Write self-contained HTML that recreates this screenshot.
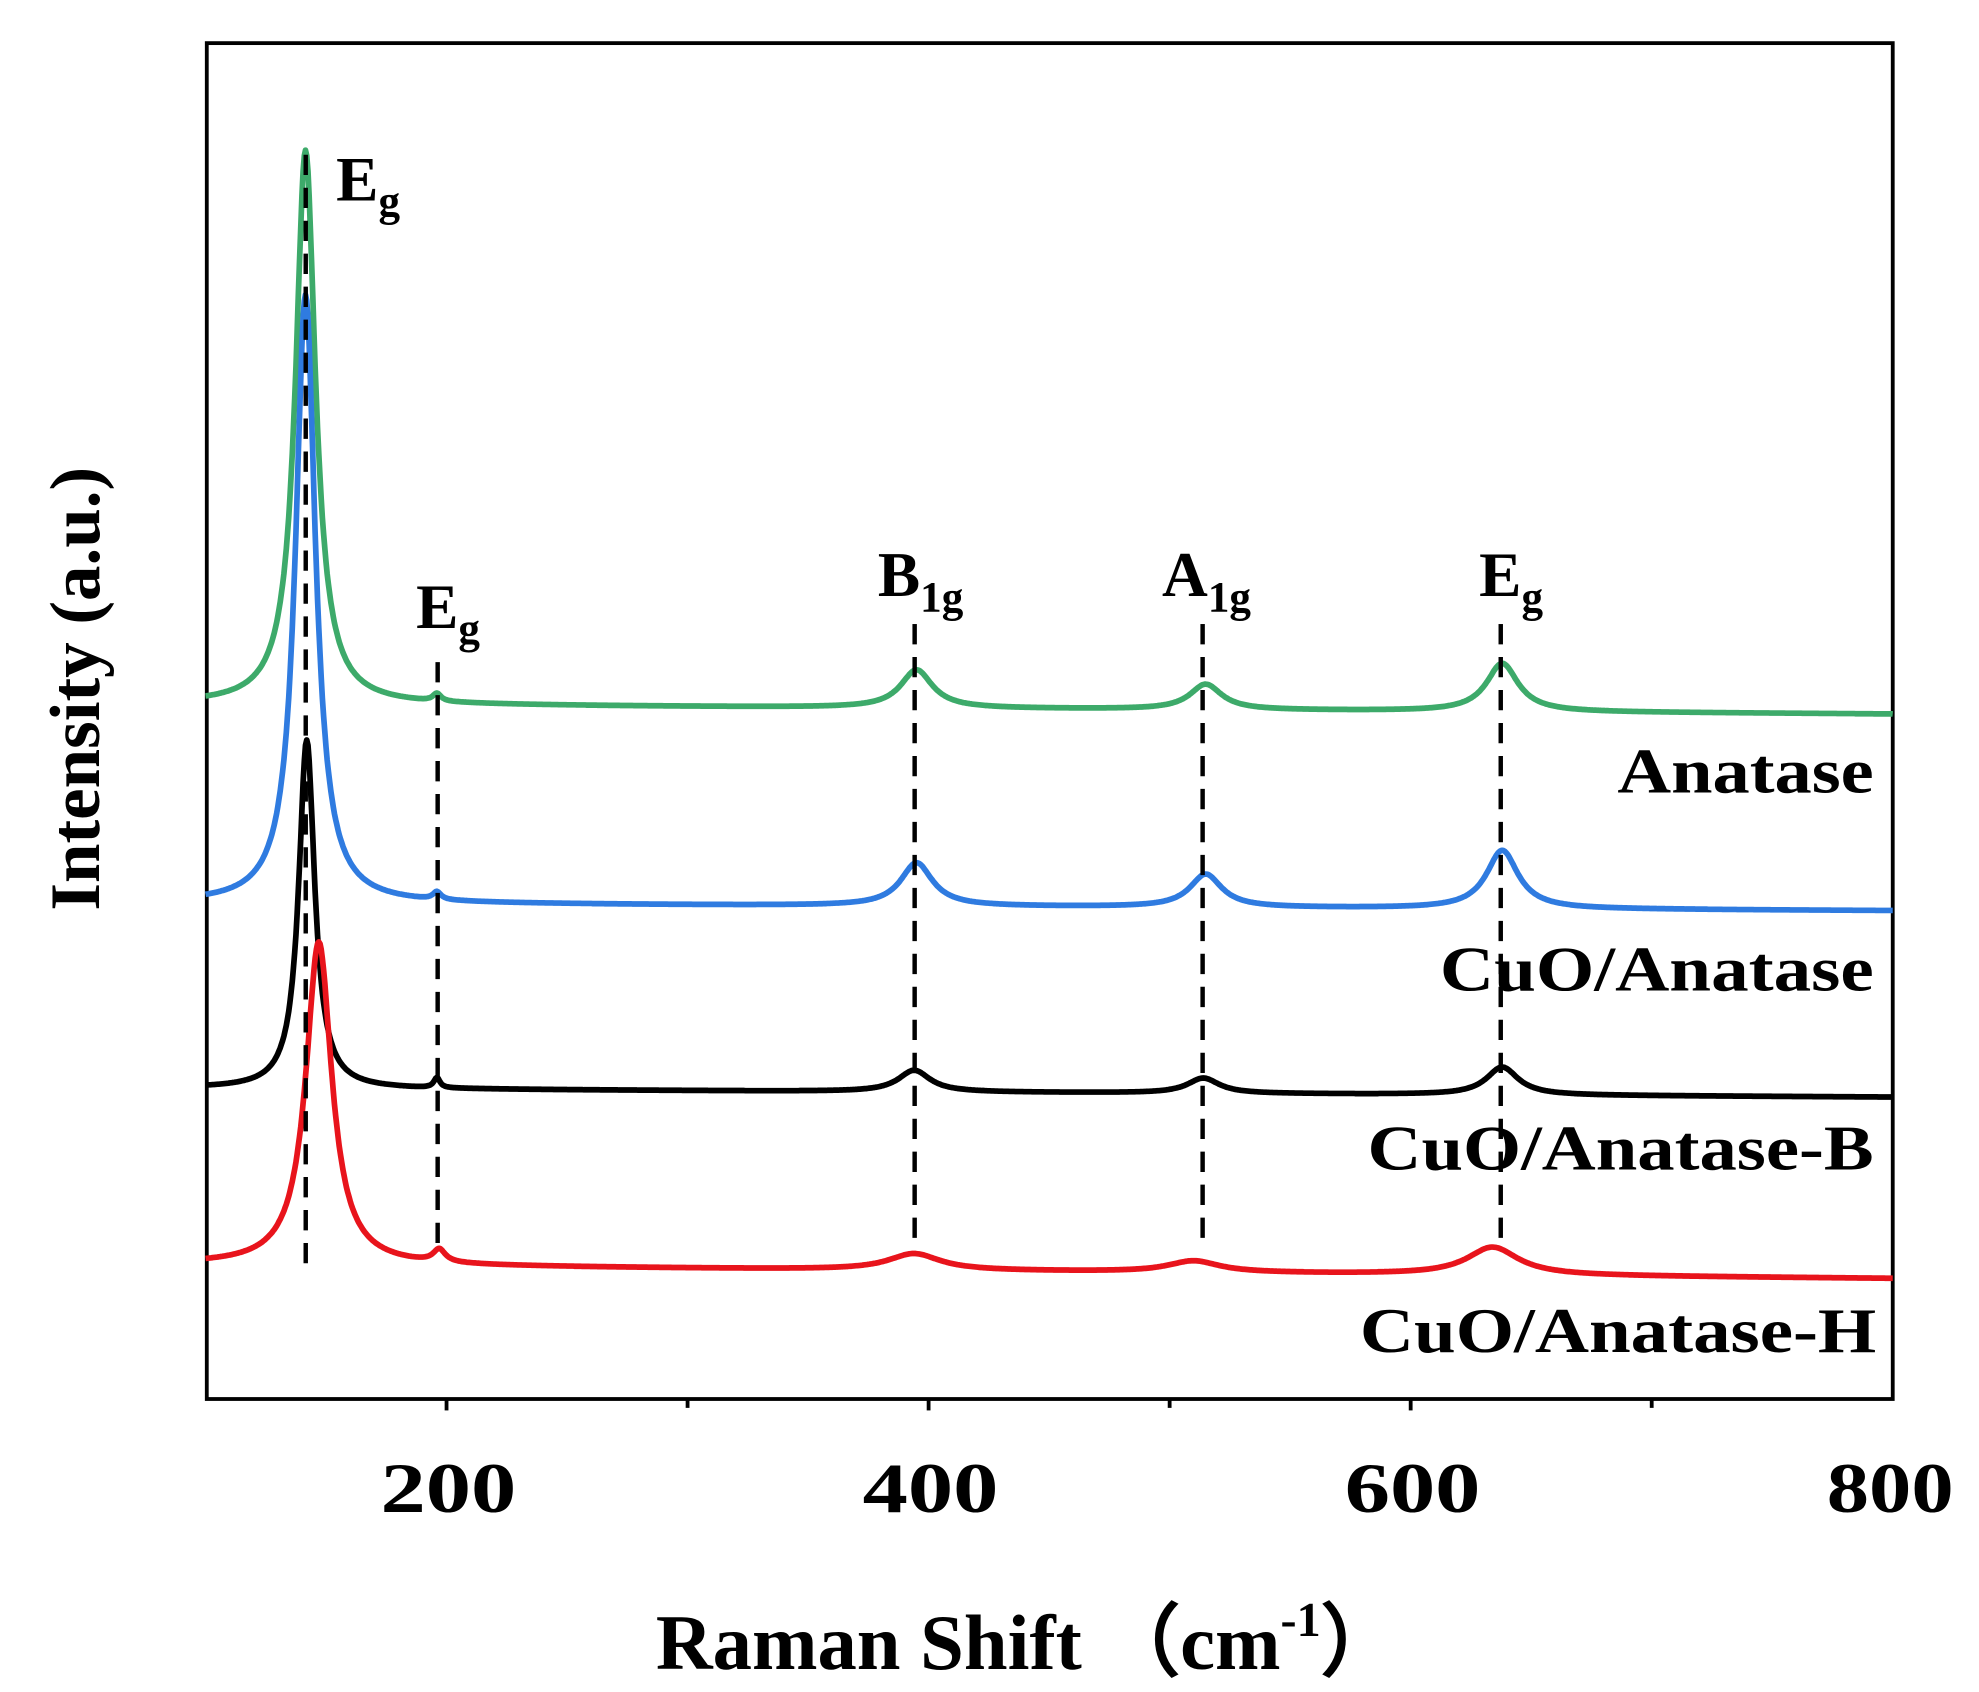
<!DOCTYPE html>
<html><head><meta charset="utf-8"><style>
html,body{margin:0;padding:0;background:#fff;}
svg{display:block;}
text{font-family:"Liberation Serif",serif;font-weight:bold;fill:#000;}
</style></head><body>
<svg id="s" width="1979" height="1692" viewBox="0 0 1560 1334" preserveAspectRatio="none" xmlns="http://www.w3.org/2000/svg">
<rect x="163" y="34" width="1329" height="1069" fill="none" stroke="#000" stroke-width="3"/>
<g stroke="#000" stroke-width="3">
<line x1="352" y1="1103" x2="352" y2="1112"/><line x1="542" y1="1103" x2="542" y2="1110"/>
<line x1="732" y1="1103" x2="732" y2="1112"/><line x1="922" y1="1103" x2="922" y2="1110"/>
<line x1="1112" y1="1103" x2="1112" y2="1112"/><line x1="1302" y1="1103" x2="1302" y2="1110"/>
</g>
<g id="curves" fill="none" stroke-width="4.5" stroke-linejoin="round"></g>
<g stroke="#000" stroke-width="3.5" stroke-dasharray="16,10" fill="none">
<line x1="241" y1="122" x2="241" y2="1000"/>
<line x1="345" y1="522" x2="345" y2="990"/>
<line x1="721" y1="492" x2="721" y2="985"/>
<line x1="948" y1="492" x2="948" y2="985"/>
<line x1="1183" y1="492" x2="1183" y2="985"/>
</g>
<g font-size="50">
<text x="265" y="158">E<tspan font-size="34" dy="12">g</tspan></text>
<text x="328" y="495">E<tspan font-size="34" dy="12">g</tspan></text>
<text x="692" y="470">B<tspan font-size="34" dy="12">1g</tspan></text>
<text x="916" y="470">A<tspan font-size="34" dy="12">1g</tspan></text>
<text x="1166" y="470">E<tspan font-size="34" dy="12">g</tspan></text>
</g>
<g font-size="50">
<text x="1275" y="625" textLength="202" lengthAdjust="spacingAndGlyphs">Anatase</text>
<text x="1135" y="781" textLength="342" lengthAdjust="spacingAndGlyphs">CuO/Anatase</text>
<text x="1078" y="922" textLength="399" lengthAdjust="spacingAndGlyphs">CuO/Anatase-B</text>
<text x="1072" y="1066" textLength="407" lengthAdjust="spacingAndGlyphs">CuO/Anatase-H</text>
</g>
<g font-size="56">
<text x="300" y="1192" textLength="107" lengthAdjust="spacingAndGlyphs">200</text>
<text x="680" y="1192" textLength="107" lengthAdjust="spacingAndGlyphs">400</text>
<text x="1060" y="1192" textLength="107" lengthAdjust="spacingAndGlyphs">600</text>
<text x="1440" y="1192" textLength="100" lengthAdjust="spacingAndGlyphs">800</text>
</g>
<text x="517" y="1316" font-size="62">Raman Shift （cm<tspan font-size="38" dy="-26">-1</tspan><tspan dy="26">）</tspan></text>
<text transform="translate(78,543) rotate(-90)" font-size="56" text-anchor="middle">Intensity (a.u.)</text>
</svg>
<script>
function X(v){return 162+(v-100)*1.9;}
var series=[
 {c:"#3daa6a",b0:555,b1:563,p:[[141.5,437,5],[196,6,2],[395,30,8],[515,20,8],[638,38,8]]},
 {c:"#2f7be0",b0:712,b1:718,p:[[141.5,480,5],[196,6,2],[395,34,8],[515,26,8],[638,46,8]]},
 {c:"#000",b0:858,b1:865,p:[[142,275,4],[196,8,1.5],[394,17,8],[514,12,8],[638,22,8]]},
 {c:"#e8141c",b0:997,b1:1008,p:[[147,255,6.5],[197,10,3],[394,13,13],[510,9,13],[634,22,13]]}
];
var g=document.getElementById("curves");
series.forEach(function(s){
 var d="";
 for(var v=100;v<=800;v+=0.5){
  var y=s.b0+(s.b1-s.b0)*(v-100)/700;
  s.p.forEach(function(p){var t=(v-p[0])/p[2];y-=p[1]/(1+t*t);});
  d+=(v==100?"M":"L")+X(v).toFixed(1)+","+y.toFixed(1);
 }
 var e=document.createElementNS("http://www.w3.org/2000/svg","path");
 e.setAttribute("d",d);e.setAttribute("stroke",s.c);g.appendChild(e);
});
</script>
</body></html>
